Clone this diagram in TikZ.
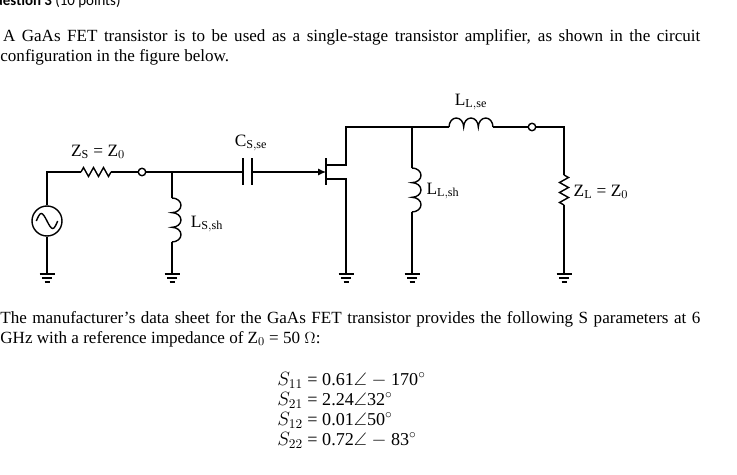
\documentclass[tikz,border=0pt]{standalone}
\usepackage{amssymb}
\usepackage{fontspec}
\setmainfont{Liberation Serif}
\newfontfamily\headfont{Carlito}
\usetikzlibrary{arrows.meta}
\hbadness=10000
\hfuzz=5pt

\tikzset{every picture/.style={line width=0.55pt}}
\tikzset{
  wire/.style={line width=1.05pt},
  port/.style={circle,draw,line width=1.05pt,fill=white,inner sep=0pt,minimum size=5.6pt},
  body/.style={anchor=north west,inner sep=0pt,text width=525pt,align=justify,font=\fontsize{12.8}{15}\selectfont},
  lab/.style={inner sep=0.75pt,font=\fontsize{13}{14}\selectfont},
  pics/gndsym/.style={code={
    \draw [line width=0.9pt] (-7.5,0) -- (7.5,0) ;
    \draw [line width=0.9pt] (-5,-4) -- (5,-4) ;
    \draw [line width=0.9pt] (-2.5,-8) -- (2.5,-8) ;
  }},
  pics/coilsym/.style={code={
    \draw [wire] (0,0) arc (180:0:7.33 and 9) arc (180:0:7.33 and 9) arc (180:0:7.33 and 9) ;
  }},
  pics/ressym/.style={code={
    \draw [wire] (0,0) -- (2.5,4.5) -- (7.5,-4.5) -- (12.5,4.5) -- (17.5,-4.5) -- (22.5,4.5) -- (27.5,-4.5) -- (30,0) ;
  }},
}

\begin{document}
\begin{tikzpicture}[x=0.75pt,y=0.75pt,yscale=-1,xscale=1]
  \path [use as bounding box] (0,0) rectangle (737,474);
  \clip (0,0) rectangle (737,474);

  % Points of the circuit
  \coordinate (srcTop) at (47,172);
  \coordinate (rsA) at (81,172);
  \coordinate (rsB) at (111,172);
  \coordinate (jnS) at (172,172);
  \coordinate (lsA) at (172,198);
  \coordinate (lsB) at (172,242);
  \coordinate (gndA) at (47,274);
  \coordinate (gndB) at (172,274);
  \coordinate (capA) at (243,172);
  \coordinate (capB) at (252,172);
  \coordinate (gate) at (326,172);
  \coordinate (drainA) at (326,165);
  \coordinate (drainB) at (346,165);
  \coordinate (srcA) at (326,179);
  \coordinate (srcB) at (346,179);
  \coordinate (gndC) at (346,274);
  \coordinate (drainTop) at (346,127);
  \coordinate (jnL) at (412,127);
  \coordinate (llA) at (412,168);
  \coordinate (llB) at (412,212);
  \coordinate (gndD) at (412,274);
  \coordinate (lseA) at (449,127);
  \coordinate (lseB) at (493,127);
  \coordinate (loadTop) at (564,127);
  \coordinate (rlA) at (564,175);
  \coordinate (rlB) at (564,205);
  \coordinate (gndE) at (564,274);

  % Source
  \node (vsrc) [circle,draw,line width=1.05pt,inner sep=0pt,minimum size=22.5pt] at (47,221) {};
  \draw [wire] ([xshift=-8pt]vsrc.center) .. controls +(4,-10) and +(-5,-10) .. (vsrc.center) .. controls +(5,10) and +(-4,10) .. ([xshift=8pt]vsrc.center) ;

  %Straight Lines
  \draw [wire] (vsrc.north) -- (srcTop) -- (rsA) ;
  \draw [wire] (vsrc.south) -- (gndA) ;
  \draw [wire] (rsB) -- (jnS) -- (capA) ;
  \draw [wire] (jnS) -- (lsA) ;
  \draw [wire] (lsB) -- (gndB) ;
  \draw [wire,-{Latex[length=6pt,width=5.5pt]}] (capB) -- (gate) ;
  \draw [wire] (drainA) -- (drainB) -- (drainTop) -- (jnL) -- (lseA) ;
  \draw [wire] (srcA) -- (srcB) -- (gndC) ;
  \draw [wire] (jnL) -- (llA) ;
  \draw [wire] (llB) -- (gndD) ;
  \draw [wire] (lseB) -- (loadTop) -- (rlA) ;
  \draw [wire] (rlB) -- (gndE) ;
  \node (portS) [port] at (142,172) {};
  \node (portL) [port] at (532,127) {};

  % Capacitor and gate bar
  \draw [wire] (243,158) -- (243,185) ;
  \draw [wire] (252,158) -- (252,185) ;
  \draw [wire] (326,158) -- (326,185) ;

  % Parts
  \path (rsA) pic {ressym} ;
  \path (rlA) pic [rotate=-90] {ressym} ;
  \path (lsA) pic [rotate=-90] {coilsym} ;
  \path (llA) pic [rotate=-90] {coilsym} ;
  \path (lseA) pic {coilsym} ;
  \path (gndA) pic {gndsym} ;
  \path (gndB) pic {gndsym} ;
  \path (gndC) pic {gndsym} ;
  \path (gndD) pic {gndsym} ;
  \path (gndE) pic {gndsym} ;

  % Text Node
  \node (labZs) [lab] at (98,152) {Z$_{\mathrm{S}}$ = Z$_{0}$};
  \node (labCs) [lab] at (251,143) {C$_{\mathrm{S,se}}$};
  \node (labLs) [lab] at (207,224) {L$_{\mathrm{S,sh}}$};
  \node (labLse) [lab] at (471,102) {L$_{\mathrm{L,se}}$};
  \node (labLsh) [lab] at (443,191) {L$_{\mathrm{L,sh}}$};
  \node (labZl) [lab] at (601,192) {Z$_{\mathrm{L}}$ = Z$_{0}$};

  % Text Node
  \node (head) [anchor=base east,inner sep=0pt,font=\fontsize{11.2}{14}\selectfont\headfont] at (121,6) {\textbf{Question 3} (10 points)};
  \node (introText) [body] at (0,29) {\hspace*{2pt}A GaAs FET transistor is to be used as a single-stage transistor amplifier, as shown in the circuit\linebreak configuration in the figure below.};
  \node (dataText) [body] at (0,311) {The manufacturer's data sheet for the GaAs FET transistor provides the following S parameters at 6\linebreak GHz with a reference impedance of Z$_{0}$ = 50 $\Omega$:};
  \node (sParams) [anchor=north west,inner sep=0pt,align=left,font=\fontsize{13.6}{15}\selectfont] at (277,372) {%
    $S_{11}$ = 0.61$\angle$ $-$ 170$^\circ$\\
    $S_{21}$ = 2.24$\angle$32$^\circ$\\
    $S_{12}$ = 0.01$\angle$50$^\circ$\\
    $S_{22}$ = 0.72$\angle$ $-$ 83$^\circ$};
\end{tikzpicture}
\end{document}
